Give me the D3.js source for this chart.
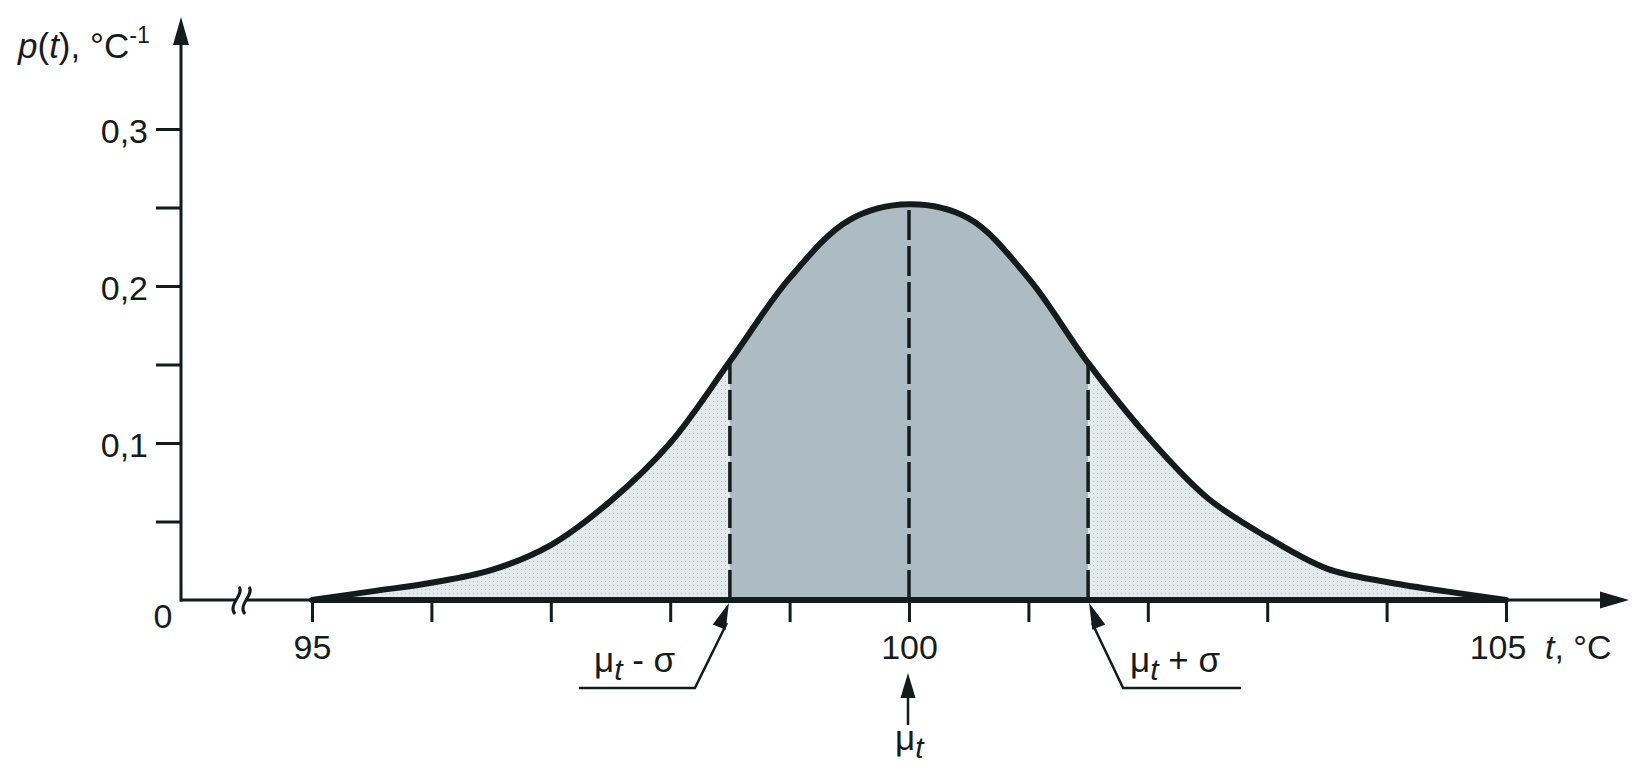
<!DOCTYPE html>
<html>
<head>
<meta charset="utf-8">
<script src="https://cdn.jsdelivr.net/npm/d3@7"></script>
<style>
  html, body { margin: 0; padding: 0; background: #ffffff; }
  svg { display: block; }
  text { font-family: "Liberation Sans", Arial, sans-serif; fill: #161c1d; }
</style>
</head>
<body>
<svg id="chart" width="1649" height="781"></svg>
<script>
// ---- data ----
const tValues = [95, 95.5, 96, 96.5, 97, 97.5, 98, 98.5, 99, 99.5, 100, 100.5, 101, 101.5, 102, 102.5, 103, 103.5, 104, 104.5, 105];
const pValues = [0, 0.0055, 0.011, 0.019, 0.035, 0.063, 0.100, 0.152, 0.205, 0.242, 0.252, 0.243, 0.205, 0.151, 0.104, 0.065, 0.040, 0.020, 0.0115, 0.0055, 0];
const xTickValues = [95, 96, 97, 98, 99, 100, 101, 102, 103, 104, 105];
const xTickLabels = ["95", "", "", "", "", "100", "", "", "", "", ""];
const yTickValues = [0.05, 0.1, 0.15, 0.2, 0.25, 0.3];
const yTickLabels = ["", "0,1", "", "0,2", "", "0,3"];
const muValue = 100;
const sigmaValue = 1.5;
const markerValues = [muValue - sigmaValue, muValue, muValue + sigmaValue];

// ---- setup ----
const svg = d3.select("#chart");
const ink = "#141b1c";
const x = d3.scaleLinear().domain([95, 105]).range([312, 1506]);
const y = d3.scaleLinear().domain([0, 0.3]).range([600, 129]);
const data = tValues.map((t, i) => ({ t, p: pValues[i] }));

const defs = svg.append("defs");
const pat = defs.append("pattern").attr("id", "dots").attr("width", 4).attr("height", 4)
  .attr("patternUnits", "userSpaceOnUse");
pat.append("rect").attr("width", 4).attr("height", 4).attr("fill", "#e3eaec");
pat.append("rect").attr("x", 1).attr("y", 1).attr("width", 1).attr("height", 1).attr("fill", "#b9c6ca");

defs.append("clipPath").attr("id", "mid").append("rect")
  .attr("x", x(markerValues[0])).attr("y", 0)
  .attr("width", x(markerValues[2]) - x(markerValues[0])).attr("height", 781);

const curve = d3.curveCatmullRom.alpha(0.5);
const area = d3.area().x(d => x(d.t)).y0(y(0)).y1(d => y(d.p)).curve(curve);

// light tails
svg.append("path").datum(data).attr("d", area).attr("fill", "url(#dots)");
// dark central band
svg.append("path").datum(data).attr("d", area).attr("fill", "#adbcc3").attr("clip-path", "url(#mid)");

// dashed markers
markerValues.forEach(m => {
  const i = tValues.indexOf(m);
  svg.append("line")
    .attr("x1", x(m)).attr("x2", x(m))
    .attr("y1", y(0)).attr("y2", y(pValues[i]))
    .attr("stroke", ink).attr("stroke-width", 3.5)
    .attr("stroke-dasharray", "30,6");
});

// ---- axes ----
const yAxis = d3.axisLeft(y).tickValues(yTickValues).tickSize(25).tickPadding(8)
  .tickFormat((d, i) => yTickLabels[i]);
const gy = svg.append("g").attr("transform", "translate(181,0)").call(yAxis);
gy.select(".domain").remove();
gy.selectAll(".tick line").attr("stroke", ink).attr("stroke-width", 3);
gy.selectAll(".tick text").attr("font-size", 34).attr("dy", "0.41em").attr("fill", "#161c1d");

const xAxis = d3.axisBottom(x).tickValues(xTickValues).tickSize(22).tickPadding(0)
  .tickFormat((d, i) => xTickLabels[i]);
const gx = svg.append("g").attr("transform", "translate(0,600)").call(xAxis);
gx.select(".domain").remove();
gx.selectAll(".tick line").attr("stroke", ink).attr("stroke-width", 3);
gx.selectAll(".tick text").attr("font-size", 34).attr("y", 59).attr("dy", 0).attr("fill", "#161c1d");

// axis lines with arrows
svg.append("line").attr("x1", 181).attr("x2", 181).attr("y1", y(0) + 1.5).attr("y2", 40)
  .attr("stroke", ink).attr("stroke-width", 3);
svg.append("path").attr("d", "M181,17 L173,45 L189,45 Z").attr("fill", ink);
svg.append("line").attr("x1", 180).attr("x2", 1605).attr("y1", y(0)).attr("y2", y(0))
  .attr("stroke", ink).attr("stroke-width", 3);
svg.append("path").attr("d", `M1629,${y(0)} L1600,${y(0) - 8.5} L1600,${y(0) + 8.5} Z`).attr("fill", ink);

// axis break symbol
const bx = 240;
svg.append("rect").attr("x", bx - 3).attr("y", y(0) - 3).attr("width", 8).attr("height", 6).attr("fill", "#fff");
[bx - 4, bx + 6].forEach(cx => {
  svg.append("path")
    .attr("d", `M${cx + 3},${y(0) - 13} C${cx + 9},${y(0) - 6} ${cx - 9},${y(0) + 5} ${cx - 1},${y(0) + 14}`)
    .attr("fill", "none").attr("stroke", ink).attr("stroke-width", 3);
});

// curve outline (including thick baseline)
svg.append("path").datum(data).attr("d", area)
  .attr("fill", "none").attr("stroke", ink).attr("stroke-width", 6).attr("stroke-linejoin", "round");

// ---- texts ----
svg.append("text").attr("x", 163).attr("y", 628).attr("font-size", 34).attr("text-anchor", "middle").text("0");
svg.append("text").attr("x", x(105) - 8).attr("y", 659).attr("font-size", 34).attr("text-anchor", "middle").text("105");

const xl = svg.append("text").attr("x", 1545).attr("y", 659).attr("font-size", 34);
xl.append("tspan").attr("font-style", "italic").text("t");
xl.append("tspan").text(", °C");

const yl = svg.append("text").attr("x", 18).attr("y", 58).attr("font-size", 35);
yl.append("tspan").attr("font-style", "italic").text("p");
yl.append("tspan").text("(");
yl.append("tspan").attr("font-style", "italic").text("t");
yl.append("tspan").text("), °C");
yl.append("tspan").attr("font-size", 23).attr("dy", -15).text("-1");

function muLabel(xPos, yPos, rest) {
  const t = svg.append("text").attr("x", xPos).attr("y", yPos).attr("font-size", 35);
  t.append("tspan").text("μ");
  t.append("tspan").attr("font-style", "italic").attr("font-size", 30).attr("dy", 8).text("t");
  if (rest) t.append("tspan").attr("dy", -8).text(rest);
  return t;
}
muLabel(594, 672, " - σ");
muLabel(1130, 672, " + σ");
muLabel(895, 750, null);

// ---- leaders and arrows ----
function arrowHead(tipX, tipY, fromX, fromY, len, half) {
  const dx = tipX - fromX, dy = tipY - fromY;
  const L = Math.hypot(dx, dy);
  const ux = dx / L, uy = dy / L;
  const bxp = tipX - ux * len, byp = tipY - uy * len;
  const px = -uy, py = ux;
  svg.append("path")
    .attr("d", `M${tipX},${tipY} L${bxp + px * half},${byp + py * half} L${bxp - px * half},${byp - py * half} Z`)
    .attr("fill", ink);
}

const xL = x(markerValues[0]), xM = x(markerValues[1]), xR = x(markerValues[2]);
const tipY = y(0) + 3;
svg.append("polyline").attr("points", `579,688 ${xL - 35},688 ${xL - 3},${tipY + 20}`)
  .attr("fill", "none").attr("stroke", ink).attr("stroke-width", 2.5);
arrowHead(xL - 1, tipY, xL - 35, 688, 26, 7);

svg.append("polyline").attr("points", `1241,688 ${xR + 35},688 ${xR + 4},${tipY + 20}`)
  .attr("fill", "none").attr("stroke", ink).attr("stroke-width", 2.5);
arrowHead(xR + 1, tipY, xR + 35, 688, 26, 7);

svg.append("line").attr("x1", xM - 1).attr("x2", xM - 1).attr("y1", 725).attr("y2", 690)
  .attr("stroke", ink).attr("stroke-width", 2.5);
arrowHead(xM - 1, 673, xM - 1, 725, 25, 7.5);
</script>
</body>
</html>
